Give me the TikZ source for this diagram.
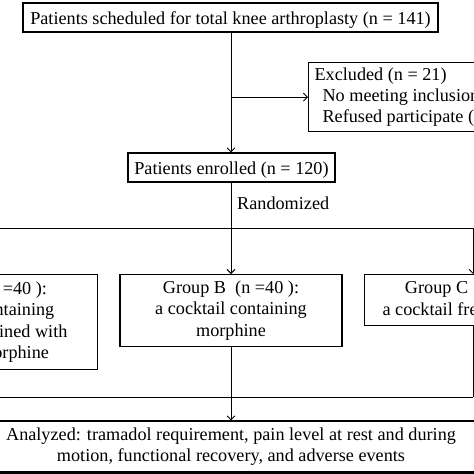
\documentclass[tikz,border=0pt]{standalone}
\usepackage{fontspec}
\setmainfont{Liberation Serif}
\usetikzlibrary{arrows.meta}
\begin{document}
\begin{tikzpicture}[x=1pt,y=-1pt,
  box/.style={draw, line width=1.1pt, inner xsep=6pt, inner ysep=0pt, align=center,
    font=\fontsize{18.2}{21.5}\selectfont},
  lowtext/.style={execute at begin node={\rule{0pt}{17.5pt}}},
  lbl/.style={inner sep=0pt, font=\fontsize{18.2}{21.5}\selectfont},
  conn/.style={line width=0.9pt},
  arr/.style={conn, -{Straight Barb[length=4pt,width=8pt,line width=0.9pt]}}]
\useasboundingbox (0,0) rectangle (474,474);
\fill[white] (0,0) rectangle (474,474);
\begin{scope}
\clip (0,0) rectangle (474,474);
% boxes
\node[box, lowtext, minimum width=415pt, minimum height=29pt] (top) at (230.5,17.5)
  {Patients scheduled for total knee arthroplasty (n = 141)};
\node[box, anchor=north west, align=left, minimum width=260pt, minimum height=69pt,
  font=\fontsize{18.2}{21}\selectfont] (excl) at (308,62)
  {Excluded (n = 21)\\\hspace{8pt}No meeting inclusion criteria (n = 15)\\\hspace{8pt}Refused participate (n = 6)};
\node[box, lowtext, minimum width=207pt, minimum height=29pt] (enr) at (231.5,167.5)
  {Patients enrolled (n = 120)};
\node[lbl, anchor=west] (rand) at (237,203) {Randomized};
\node[box, lowtext, anchor=north east, minimum width=238pt, minimum height=95pt] (ga) at (98,274)
  {Group A\ \ (n =40 ):\\a cocktail containing\\tramadol combined with\\low-dose morphine};
\node[box, lowtext, anchor=north, minimum width=222pt, minimum height=72pt] (gb) at (231,274)
  {Group B\ \ (n =40 ):\\a cocktail containing\\morphine};
\node[box, lowtext, anchor=north west, minimum width=217pt, minimum height=51pt] (gc) at (364,274)
  {Group C\ \ (n =40 ):\\a cocktail free of opioids};
\node[box, lowtext, minimum width=540pt, minimum height=51pt] (an) at (231,446.5)
  {Analyzed: tramadol requirement, pain level at rest and during\\motion, functional recovery, and adverse events};
% connectors
\coordinate (br) at (231,97);
\coordinate (split) at (231,228);
\coordinate (merge) at (231,397);
\draw[arr] (top.south -| br) -- (enr.north -| br);
\draw[arr] (excl.west -| br) -- (excl.west);
\draw[arr] (enr.south -| split) -- (gb.north);
\draw[conn] (split -| ga.north) -- (split -| gc.north);
\draw[arr] (split -| ga.north) -- (ga.north);
\draw[arr] (split -| gc.north) -- (gc.north);
\draw[conn] (ga.south) -- (merge -| ga.south);
\draw[conn] (gc.south) -- (merge -| gc.south);
\draw[conn] (merge -| ga.south) -- (merge -| gc.south);
\draw[conn] (gb.south) -- (merge);
\draw[arr] (merge) -- (an.north -| merge);
\draw[line width=2.5pt] (an.south west) -- (an.south east);
\end{scope}
\end{tikzpicture}
\end{document}
